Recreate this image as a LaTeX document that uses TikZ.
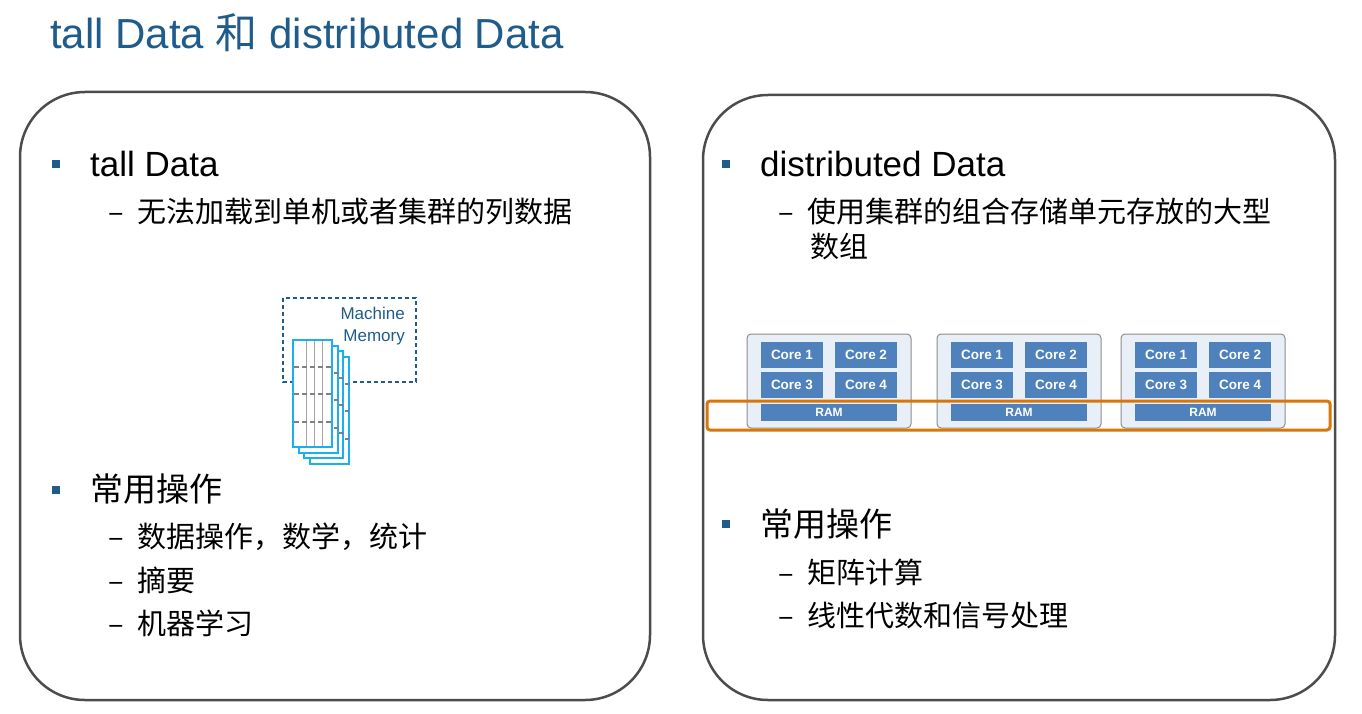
\documentclass[tikz,border=0pt]{standalone}
\usepackage{fontspec}
\setmainfont{Liberation Sans}
\newfontfamily\cjk{Noto Sans CJK SC}
\definecolor{ttl}{HTML}{1F5C8C}
\definecolor{blu}{HTML}{4F81BD}
\definecolor{cyan2}{HTML}{1AB0EE}
\definecolor{org}{HTML}{D9760A}
\definecolor{pale}{HTML}{E9EFF7}
\begin{document}
\begin{tikzpicture}[x=1pt,y=-1pt,
  panel/.style={draw=black!70,line width=2.5pt,rounded corners=65pt},
  bul/.style={anchor=west,font=\fontsize{35}{40}\selectfont,inner sep=0},
  sub/.style={anchor=west,font=\fontsize{29}{34}\selectfont\cjk,inner sep=0,align=left},
  core/.style={fill=blu,text=white,font=\bfseries\fontsize{13.5}{15}\selectfont,inner sep=0,minimum width=62pt,minimum height=26pt},
  ram/.style={fill=blu,text=white,font=\bfseries\fontsize{12}{14}\selectfont,inner sep=0,minimum width=136pt,minimum height=17pt},
  srv/.style={draw=black!45,fill=pale,line width=1pt,rounded corners=4pt},
  sheet/.style={draw=cyan2,fill=white,line width=2pt}]
\useasboundingbox (0,0) rectangle (1362,714);
\node[anchor=west,text=ttl,font=\fontsize{42}{48}\selectfont,inner sep=0] (title) at (50,33) {tall Data {\cjk 和} distributed Data};
\draw[panel] (20,92) rectangle (650,700);
\draw[panel] (703,95) rectangle (1335,700);
% left texts
\fill[ttl] (52,160) rectangle (60,168);
\node[bul] (t1) at (90,164) {tall Data};
\node[sub] (s1) at (108,211) {–\hspace{14pt}无法加载到单机或者集群的列数据};
\fill[ttl] (52,486) rectangle (60,494);
\node[bul,font=\fontsize{33}{38}\selectfont\cjk] (t2) at (90,489) {常用操作};
\node[sub] (s2) at (108,537) {–\hspace{14pt}数据操作，数学，统计};
\node[sub] (s3) at (108,580) {–\hspace{14pt}摘要};
\node[sub] (s4) at (108,623) {–\hspace{14pt}机器学习};
% machine memory
\draw[ttl,dashed,line width=1.5pt,dash pattern=on 4pt off 3pt] (283,298) rectangle (416,382);
\node[text=ttl,font=\fontsize{17}{22}\selectfont,align=right,anchor=north east,inner sep=0] (mm) at (405,307) {Machine\\Memory};
\foreach \o in {17,11,6}{
  \draw[sheet] (293+\o,340+\o) rectangle (332+\o,447+\o);
  \foreach \yy in {367,394,422} \draw[gray,line width=1.2pt] (332+\o-4,\yy+\o) -- (332+\o+1,\yy+\o);
}
\draw[sheet] (293,340) rectangle (332,447);
\foreach \xx in {306,314,322} \draw[gray!70,line width=1pt] (\xx,341) -- (\xx,446);
\foreach \yy in {367,394,422} \draw[gray,line width=1.2pt,dash pattern=on 5pt off 3pt] (294,\yy) -- (331,\yy);
% right texts
\fill[ttl] (722,160) rectangle (730,168);
\node[bul] (t3) at (760,164) {distributed Data};
\node[sub] (s5) at (778,211) {–\hspace{14pt}使用集群的组合存储单元存放的大型};
\node[sub] (s6) at (810,247) {数组};
\foreach \n/\x in {a/747,b/937,c/1121}{
  \draw[srv] (\x,334) rectangle (\x+164,428);
  \node[core] (\n1) at (\x+45,355) {Core 1};
  \node[core] (\n2) at (\x+119,355) {Core 2};
  \node[core] (\n3) at (\x+45,385) {Core 3};
  \node[core] (\n4) at (\x+119,385) {Core 4};
  \node[ram] (\n r) at (\x+82,412) {RAM};
}
\draw[org,line width=3pt,rounded corners=3pt] (707,401) rectangle (1330,430);
\fill[ttl] (722,520) rectangle (730,528);
\node[bul,font=\fontsize{33}{38}\selectfont\cjk] (t4) at (760,524) {常用操作};
\node[sub] (s7) at (778,572) {–\hspace{14pt}矩阵计算};
\node[sub] (s8) at (778,615) {–\hspace{14pt}线性代数和信号处理};
\end{tikzpicture}
\end{document}
